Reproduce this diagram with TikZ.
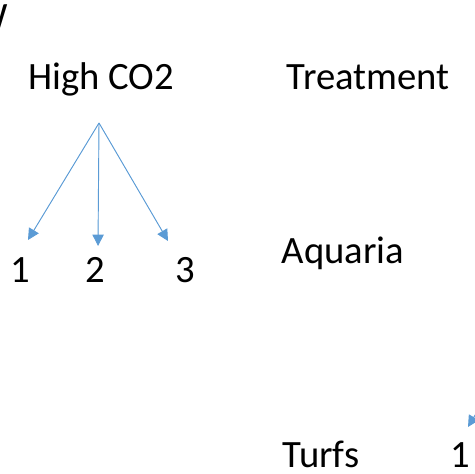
\documentclass[tikz,border=0pt]{standalone}
\usepackage{fontspec}
\setmainfont{Carlito}
\usetikzlibrary{arrows.meta, positioning}

\definecolor{officeblue}{RGB}{91,155,213}

\begin{document}
\begin{tikzpicture}[
    x=0.75pt, y=-0.75pt,
    label/.style={font=\fontsize{29}{34}\selectfont, inner sep=0pt, anchor=base},
    arrow/.style={-{Triangle[length=8.5pt, width=8.5pt]}, draw=officeblue, fill=officeblue, line width=0.7pt}
]
\useasboundingbox (0,0) rectangle (474,474);

% Row headings
\node[label] (treat) at (368,90) {Treatment};
\node[label] (aqua) at (343,263) {Aquaria};
\node[label] (turfs) at (321,467) {Turfs};

% Treatment and aquaria
\node[label, anchor=base east] (cut) at (8,30) {W};
\node[label] (high) at (101,90) {High CO2};
\node[label] (one) at (20,282) {1};
\node[label] (two) at (95,282) {2};
\node[label] (three) at (185,282) {3};
\node[label] (turfone) at (460,467) {1};

% Arrows
\coordinate (apex) at (99,123);
\coordinate (tip1) at (28,240);
\coordinate (tip2) at (98,246);
\coordinate (tip3) at (168,241);
\coordinate (tip4) at (468,427);
\coordinate (from4) at (538,310);
\draw[arrow] (apex) -- (tip1);
\draw[arrow] (apex) -- (tip2);
\draw[arrow] (apex) -- (tip3);
\draw[arrow] (from4) -- (tip4);

\end{tikzpicture}
\end{document}
